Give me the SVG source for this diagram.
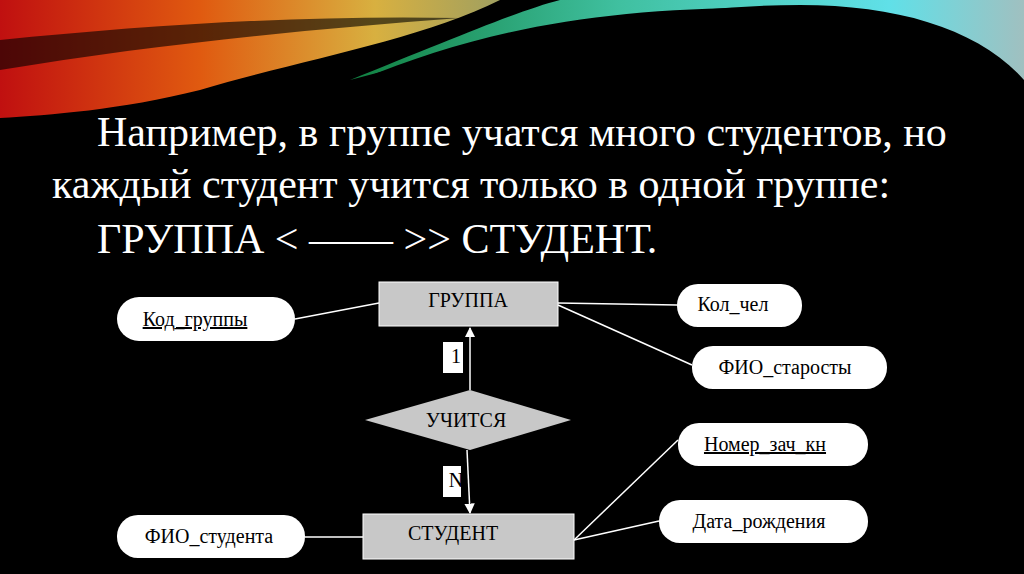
<svg xmlns="http://www.w3.org/2000/svg" width="1024" height="574" viewBox="0 0 1024 574">
<defs>
<linearGradient id="warm" x1="0" y1="0" x2="1" y2="0"><stop offset="0" stop-color="#c01010"/><stop offset="0.4" stop-color="#e05a10"/><stop offset="0.75" stop-color="#d8b040"/><stop offset="1" stop-color="#a0a060"/></linearGradient>
<linearGradient id="cool" x1="0" y1="0" x2="1" y2="0"><stop offset="0" stop-color="#108040"/><stop offset="0.4" stop-color="#40c0a0"/><stop offset="0.8" stop-color="#60e0e8"/><stop offset="1" stop-color="#a0c0c0"/></linearGradient>
<marker id="ar" viewBox="0 0 10 10" refX="9" refY="5" markerWidth="7" markerHeight="7" orient="auto"><path d="M0,0 L10,5 L0,10 z" fill="#fff"/></marker>
<style>
.t{font-family:"Liberation Serif",serif;fill:#fff;font-size:42px}
.n{font-family:"Liberation Serif",serif;fill:#000;font-size:20px;text-anchor:middle}
.box{fill:#c8c8c8;stroke:#fff;stroke-width:1}
.pill{fill:#fff}
.ln{stroke:#fff;stroke-width:1.5;fill:none}
</style>
</defs>
<rect width="1024" height="574" fill="#000"/>
<path d="M0,0 H500 C420,40 300,60 200,90 C120,110 50,115 0,118 Z" fill="url(#warm)"/>
<path d="M0,40 C150,25 300,15 460,18 C300,30 150,45 0,70 Z" fill="#000" opacity="0.6"/>
<path d="M350,80 C450,40 520,10 560,0 H1024 V80 C980,30 900,5 800,5 C650,5 500,40 350,80 Z" fill="url(#cool)"/>
<path d="M360,80 C480,30 600,8 760,8 C880,8 960,40 1024,90 V120 C960,60 880,20 780,18 C620,15 480,45 360,80 Z" fill="#000"/>
<text class="t" x="97" y="146">Например, в группе учатся много студентов, но</text>
<text class="t" x="52" y="198">каждый студент учится только в одной группе:</text>
<text class="t" x="97" y="253">ГРУППА &lt; —— &gt;&gt; СТУДЕНТ.</text>
<g id="connectors">
<line class="ln" x1="295" y1="319" x2="379" y2="303"/>
<line class="ln" x1="558" y1="303" x2="677" y2="305"/>
<line class="ln" x1="558" y1="305" x2="692" y2="365"/>
<line class="ln" x1="574" y1="540" x2="678" y2="440"/>
<line class="ln" x1="574" y1="540" x2="659" y2="521"/>
<line class="ln" x1="305" y1="537" x2="363" y2="537"/>
<line class="ln" x1="470" y1="390" x2="470" y2="328" marker-end="url(#ar)"/>
<line class="ln" x1="467" y1="450" x2="470" y2="513" marker-end="url(#ar)"/>
</g>
<g id="gruppa"><rect class="box" x="379" y="282" width="179" height="44"/><text class="n" x="468" y="307">ГРУППА</text></g>
<g id="student"><rect class="box" x="363" y="514" width="211" height="45"/><text class="n" x="453" y="540">СТУДЕНТ</text></g>
<g id="uchitsya"><polygon points="365,420 470,390 571,420 470,450" fill="#c8c8c8"/><text class="n" x="466" y="427">УЧИТСЯ</text></g>
<g id="l1"><rect x="443" y="342" width="20" height="31" fill="#fff"/><text class="n" x="456" y="363" font-size="13">1</text></g>
<g id="lN"><rect x="443" y="466" width="18" height="31" fill="#fff"/><text class="n" x="456" y="487" font-size="13">N</text></g>
<g id="kod"><rect class="pill" x="117" y="297" width="178" height="44" rx="22"/><text class="n" x="195" y="326" text-decoration="underline">Код_группы</text></g>
<g id="kolchel"><rect class="pill" x="677" y="284" width="125" height="43" rx="21"/><text class="n" x="733" y="311">Кол_чел</text></g>
<g id="fiostar"><rect class="pill" x="692" y="346" width="195" height="43" rx="21"/><text class="n" x="785" y="374">ФИО_старосты</text></g>
<g id="nomer"><rect class="pill" x="678" y="423" width="190" height="43" rx="21"/><text class="n" x="765" y="451" text-decoration="underline">Номер_зач_кн</text></g>
<g id="data"><rect class="pill" x="659" y="500" width="209" height="43" rx="21"/><text class="n" x="759" y="528">Дата_рождения</text></g>
<g id="fiostud"><rect class="pill" x="117" y="515" width="188" height="43" rx="21"/><text class="n" x="209" y="543">ФИО_студента</text></g>
</svg>
